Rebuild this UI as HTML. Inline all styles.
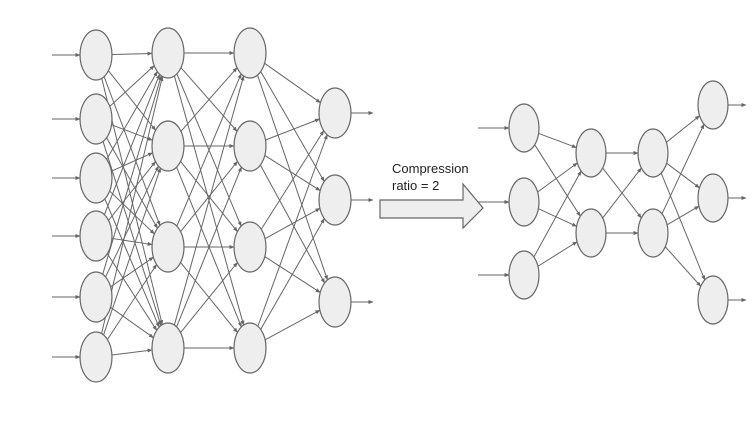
<!DOCTYPE html>
<html><head><meta charset="utf-8"><style>
html,body{margin:0;padding:0;background:#fff;}
svg{display:block;}
</style></head><body>
<svg id="s" width="756" height="425" xmlns="http://www.w3.org/2000/svg">
<defs><marker id="a" viewBox="0 0 10 10" refX="9" refY="5" markerWidth="5" markerHeight="5" orient="auto"><path d="M0,1 L10,5 L0,9 z" fill="#666"/></marker></defs>
<g id="L" stroke="#666" stroke-width="1" fill="none"></g>
<g id="N" fill="#eeeeee" stroke="#666" stroke-width="1.2"></g>
<path d="M380,200 L463,200 L463,184 L483,208 L463,228 L463,218 L380,218 Z" fill="#eeeeee" stroke="#666" stroke-width="1.2"/>
<text x="392" y="173" font-family="Liberation Sans, sans-serif" font-size="13" fill="#222">Compression</text>
<text x="392" y="190" font-family="Liberation Sans, sans-serif" font-size="13" fill="#222">ratio = 2</text>
</svg>
<script>
var NS="http://www.w3.org/2000/svg";
var L=document.getElementById('L'),N=document.getElementById('N');
function el(t,a,p){var e=document.createElementNS(NS,t);for(var k in a)e.setAttribute(k,a[k]);p.appendChild(e);return e;}
function net(layers,rx,ry,inX,outX){
 layers.forEach(function(ly){ly.ys.forEach(function(y){el('ellipse',{cx:ly.x,cy:y,rx:rx,ry:ry},N);});});
 for(var i=0;i<layers.length-1;i++){var A=layers[i],B=layers[i+1];
  A.ys.forEach(function(ya){B.ys.forEach(function(yb){
   var dx=B.x-A.x,dy=yb-ya;var t=1/Math.sqrt((dx/rx)*(dx/rx)+(dy/ry)*(dy/ry));
   el('line',{x1:A.x+dx*t,y1:ya+dy*t,x2:B.x-dx*t,y2:yb-dy*t,'marker-end':'url(#a)'},L);});});}
 var f=layers[0];f.ys.forEach(function(y){el('line',{x1:inX,y1:y,x2:f.x-rx,y2:y,'marker-end':'url(#a)'},L);});
 var l=layers[layers.length-1];l.ys.forEach(function(y){el('line',{x1:l.x+rx,y1:y,x2:outX,y2:y,'marker-end':'url(#a)'},L);});
}
net([{x:96,ys:[55,119,178,236,297,357]},{x:168,ys:[53,146,247,348]},{x:250,ys:[53,146,247,348]},{x:335,ys:[113,200,302]}],16,25,52,373);
net([{x:524,ys:[128,202,275]},{x:591,ys:[153,233]},{x:653,ys:[153,233]},{x:713,ys:[105,198,300]}],15,24,478,746);
</script>
</body></html>
